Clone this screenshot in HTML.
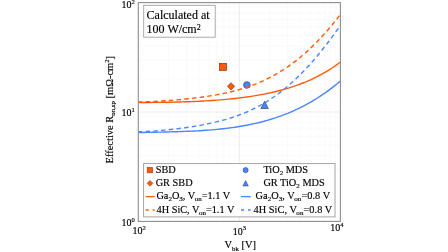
<!DOCTYPE html><html><head><meta charset="utf-8"><title>chart</title><style>html,body{margin:0;padding:0;background:#fff;}svg{display:block;font-family:"Liberation Serif",serif;fill:#000;}text{stroke:#000;stroke-width:0.15px;}</style></head><body>
<svg width="448" height="252" viewBox="0 0 448 252">
<rect width="448" height="252" fill="#fff"/>
<path d="M168.72 2.6 V221.4 M186.51 2.6 V221.4 M199.14 2.6 V221.4 M208.93 2.6 V221.4 M216.93 2.6 V221.4 M223.70 2.6 V221.4 M229.56 2.6 V221.4 M234.73 2.6 V221.4 M269.77 2.6 V221.4 M287.56 2.6 V221.4 M300.19 2.6 V221.4 M309.98 2.6 V221.4 M317.98 2.6 V221.4 M324.75 2.6 V221.4 M330.61 2.6 V221.4 M335.78 2.6 V221.4 M138.3 188.47 H340.4 M138.3 169.20 H340.4 M138.3 155.53 H340.4 M138.3 144.93 H340.4 M138.3 136.27 H340.4 M138.3 128.95 H340.4 M138.3 122.60 H340.4 M138.3 117.01 H340.4 M138.3 79.07 H340.4 M138.3 59.80 H340.4 M138.3 46.13 H340.4 M138.3 35.53 H340.4 M138.3 26.87 H340.4 M138.3 19.55 H340.4 M138.3 13.20 H340.4 M138.3 7.61 H340.4" stroke="#f9f9f9" stroke-width="0.8" fill="none"/>
<path d="M239.35 2.6 V221.4 M138.3 112.00 H340.4" stroke="#ebebeb" stroke-width="0.9" fill="none"/>
<g fill="none" stroke-width="1.4" stroke-linejoin="round">
<path d="M138.3 132.64 L141.2 132.56 L144.2 132.49 L147.1 132.42 L150.0 132.36 L152.9 132.29 L155.9 132.22 L158.8 132.15 L161.7 132.09 L164.7 132.02 L167.6 131.94 L170.5 131.87 L173.4 131.78 L176.4 131.7 L179.3 131.6 L182.2 131.5 L185.2 131.39 L188.1 131.28 L191.0 131.15 L194.0 131.01 L196.9 130.86 L199.8 130.69 L202.7 130.51 L205.7 130.31 L208.6 130.1 L211.5 129.87 L214.5 129.62 L217.4 129.35 L220.3 129.06 L223.2 128.75 L226.2 128.41 L229.1 128.04 L232.0 127.65 L235.0 127.23 L237.9 126.79 L240.8 126.31 L243.7 125.8 L246.7 125.25 L249.6 124.67 L252.5 124.06 L255.5 123.4 L258.4 122.71 L261.3 121.98 L264.2 121.2 L267.2 120.38 L270.1 119.52 L273.0 118.6 L276.0 117.65 L278.9 116.64 L281.8 115.57 L284.7 114.46 L287.7 113.29 L290.6 112.07 L293.5 110.79 L296.5 109.45 L299.4 108.04 L302.3 106.58 L305.3 105.05 L308.2 103.46 L311.1 101.79 L314.0 100.06 L317.0 98.26 L319.9 96.39 L322.8 94.44 L325.8 92.42 L328.7 90.32 L331.6 88.14 L334.5 85.88 L337.5 83.53 L340.4 81.11" stroke="#4a86ff"/>
<path d="M138.3 102.47 L141.2 102.46 L144.2 102.46 L147.1 102.45 L150.0 102.44 L152.9 102.42 L155.9 102.4 L158.8 102.37 L161.7 102.34 L164.7 102.3 L167.6 102.25 L170.5 102.2 L173.4 102.14 L176.4 102.07 L179.3 101.99 L182.2 101.91 L185.2 101.82 L188.1 101.71 L191.0 101.6 L194.0 101.48 L196.9 101.35 L199.8 101.21 L202.7 101.05 L205.7 100.89 L208.6 100.71 L211.5 100.52 L214.5 100.32 L217.4 100.1 L220.3 99.87 L223.2 99.62 L226.2 99.36 L229.1 99.08 L232.0 98.78 L235.0 98.47 L237.9 98.14 L240.8 97.78 L243.7 97.41 L246.7 97.01 L249.6 96.59 L252.5 96.14 L255.5 95.67 L258.4 95.17 L261.3 94.64 L264.2 94.08 L267.2 93.49 L270.1 92.87 L273.0 92.21 L276.0 91.52 L278.9 90.78 L281.8 90.01 L284.7 89.19 L287.7 88.33 L290.6 87.42 L293.5 86.46 L296.5 85.45 L299.4 84.39 L302.3 83.26 L305.3 82.08 L308.2 80.84 L311.1 79.52 L314.0 78.14 L317.0 76.69 L319.9 75.16 L322.8 73.55 L325.8 71.86 L328.7 70.08 L331.6 68.22 L334.5 66.25 L337.5 64.19 L340.4 62.03" stroke="#ff5a0a"/>
</g>
<rect x="219.40" y="63.40" width="7" height="7" fill="#ff5a0a" stroke="#8c2f08" stroke-width="0.7"/>
<path d="M231 82.7 L234.6 86.3 L231 89.89999999999999 L227.4 86.3 Z" fill="#ff5a0a" stroke="#8c2f08" stroke-width="0.7"/>
<circle cx="246.9" cy="85" r="3.3" fill="#4a86ff" stroke="#2b3a7a" stroke-width="0.7"/>
<path d="M264.6 101.30000000000001 L268.3 108.5 L260.90000000000003 108.5 Z" fill="#4a86ff" stroke="#2b3a7a" stroke-width="0.7"/>
<g fill="none" stroke-width="1.4" stroke-linejoin="round">
<path d="M138.3 131.68 L141.2 131.64 L144.2 131.57 L147.1 131.45 L150.0 131.3 L152.9 131.12 L155.9 130.91 L158.8 130.68 L161.7 130.42 L164.7 130.15 L167.6 129.85 L170.5 129.53 L173.4 129.2 L176.4 128.85 L179.3 128.48 L182.2 128.1 L185.2 127.69 L188.1 127.27 L191.0 126.83 L194.0 126.36 L196.9 125.88 L199.8 125.37 L202.7 124.83 L205.7 124.27 L208.6 123.67 L211.5 123.05 L214.5 122.39 L217.4 121.69 L220.3 120.95 L223.2 120.17 L226.2 119.34 L229.1 118.46 L232.0 117.54 L235.0 116.55 L237.9 115.52 L240.8 114.41 L243.7 113.25 L246.7 112.02 L249.6 110.72 L252.5 109.34 L255.5 107.89 L258.4 106.37 L261.3 104.76 L264.2 103.06 L267.2 101.28 L270.1 99.42 L273.0 97.46 L276.0 95.4 L278.9 93.26 L281.8 91.01 L284.7 88.67 L287.7 86.23 L290.6 83.68 L293.5 81.04 L296.5 78.29 L299.4 75.44 L302.3 72.49 L305.3 69.44 L308.2 66.28 L311.1 63.03 L314.0 59.67 L317.0 56.22 L319.9 52.67 L322.8 49.03 L325.8 45.3 L328.7 41.47 L331.6 37.57 L334.5 33.58 L337.5 29.52 L340.4 25.39" stroke="#4a86ff" stroke-dasharray="4.5 3.25" stroke-dashoffset="0.5"/>
<path d="M138.3 101.97 L141.2 101.92 L144.2 101.84 L147.1 101.75 L150.0 101.63 L152.9 101.49 L155.9 101.34 L158.8 101.17 L161.7 100.99 L164.7 100.79 L167.6 100.58 L170.5 100.36 L173.4 100.12 L176.4 99.87 L179.3 99.61 L182.2 99.34 L185.2 99.05 L188.1 98.75 L191.0 98.43 L194.0 98.1 L196.9 97.75 L199.8 97.38 L202.7 96.98 L205.7 96.57 L208.6 96.13 L211.5 95.67 L214.5 95.18 L217.4 94.65 L220.3 94.1 L223.2 93.51 L226.2 92.89 L229.1 92.22 L232.0 91.52 L235.0 90.77 L237.9 89.97 L240.8 89.13 L243.7 88.23 L246.7 87.28 L249.6 86.27 L252.5 85.21 L255.5 84.08 L258.4 82.88 L261.3 81.62 L264.2 80.29 L267.2 78.89 L270.1 77.41 L273.0 75.86 L276.0 74.22 L278.9 72.5 L281.8 70.7 L284.7 68.81 L287.7 66.84 L290.6 64.77 L293.5 62.61 L296.5 60.36 L299.4 58.01 L302.3 55.56 L305.3 53.01 L308.2 50.36 L311.1 47.61 L314.0 44.76 L317.0 41.8 L319.9 38.74 L322.8 35.58 L325.8 32.31 L328.7 28.94 L331.6 25.46 L334.5 21.87 L337.5 18.18 L340.4 14.39" stroke="#ff5a0a" stroke-dasharray="4.5 3.25" stroke-dashoffset="0.5"/>
</g>
<rect x="138.3" y="2.6" width="202.10" height="218.80" fill="none" stroke="#8e8e8e" stroke-width="1.1"/>
<rect x="143.7" y="5.3" width="71.5" height="31.9" fill="#fff" stroke="#a2a2a2" stroke-width="0.9"/>
<text x="146.6" y="19" font-size="12">Calculated at</text>
<text x="146.6" y="32.8" font-size="12">100 W/cm<tspan font-size="8" dy="-3.2">2</tspan></text>
<rect x="143.6" y="163.6" width="191.4" height="53.3" fill="#fff" stroke="#9c9c9c" stroke-width="0.9"/>
<rect x="147.15" y="167.35" width="5.5" height="5.5" fill="#ff5a0a" stroke="#8c2f08" stroke-width="0.5"/>
<text x="155.7" y="173.3" font-size="10.3">SBD</text>
<path d="M150.0 180.4 L152.9 183.3 L150.0 186.20000000000002 L147.1 183.3 Z" fill="#ff5a0a" stroke="#8c2f08" stroke-width="0.5"/>
<text x="155.7" y="186.3" font-size="10.3">GR SBD</text>
<path d="M145.6 196.6 H154.7" stroke="#ff5a0a" stroke-width="1.3"/>
<text x="156.4" y="199.4" font-size="10.3">Ga<tspan font-size="7.0" dy="2" dx="0">2</tspan><tspan dy="-2" font-size="10.3">O</tspan><tspan font-size="7.0" dy="2" dx="0">3</tspan><tspan dy="-2" font-size="10.3">, V</tspan><tspan font-size="7.0" dy="2" dx="-0.6">on</tspan><tspan dy="-2" font-size="10.3">=1.1 V</tspan></text>
<path d="M145.6 210 H154.7" stroke="#ff5a0a" stroke-width="1.3" stroke-dasharray="3.2 3.8"/>
<text x="156.5" y="212.5" font-size="10.3">4H SiC, V<tspan font-size="7.0" dy="2" dx="-0.6">on</tspan><tspan dy="-2" font-size="10.3">=1.1 V</tspan></text>
<circle cx="245.6" cy="170.1" r="2.6" fill="#4a86ff" stroke="#2b3a7a" stroke-width="0.5"/>
<text x="263.4" y="173.4" font-size="10.3">TiO<tspan font-size="7.0" dy="2" dx="0">2</tspan><tspan dy="-2" font-size="10.3"> MDS</tspan></text>
<path d="M245.6 180.60000000000002 L248.35 186.0 L242.85 186.0 Z" fill="#4a86ff" stroke="#2b3a7a" stroke-width="0.5"/>
<text x="263.4" y="186.4" font-size="10.3">GR TiO<tspan font-size="7.0" dy="2" dx="0">2</tspan><tspan dy="-2" font-size="10.3"> MDS</tspan></text>
<path d="M241 196.6 H250.7" stroke="#4a86ff" stroke-width="1.3"/>
<text x="255.5" y="199.4" font-size="10.3" letter-spacing="0.06">Ga<tspan font-size="7.0" dy="2" dx="0">2</tspan><tspan dy="-2" font-size="10.3">O</tspan><tspan font-size="7.0" dy="2" dx="0">3</tspan><tspan dy="-2" font-size="10.3">, V</tspan><tspan font-size="7.0" dy="2" dx="-0.6">on</tspan><tspan dy="-2" font-size="10.3">=0.8 V</tspan></text>
<path d="M241 210 H250.7" stroke="#4a86ff" stroke-width="1.3" stroke-dasharray="3.2 3.8"/>
<text x="253.5" y="212.5" font-size="10.3" letter-spacing="0.05">4H SiC, V<tspan font-size="7.0" dy="2" dx="-0.6">on</tspan><tspan dy="-2" font-size="10.3">=0.8 V</tspan></text>
<text x="121.5" y="8.4" font-size="10" text-anchor="start">10<tspan font-size="6.6" dy="-4.2">2</tspan></text>
<text x="121.5" y="116.4" font-size="10" text-anchor="start">10<tspan font-size="6.6" dy="-4.2">1</tspan></text>
<text x="121.5" y="225.7" font-size="10" text-anchor="start">10<tspan font-size="6.6" dy="-4.2">0</tspan></text>
<text x="132.4" y="234.2" font-size="10" text-anchor="start">10<tspan font-size="6.6" dy="-4.2">2</tspan></text>
<text x="232.8" y="234.6" font-size="10" text-anchor="start">10<tspan font-size="6.6" dy="-4.2">3</tspan></text>
<text x="330.3" y="231.3" font-size="10" text-anchor="start">10<tspan font-size="6.6" dy="-4.2">4</tspan></text>
<text x="224.5" y="247.9" font-size="10.4">V<tspan font-size="7" dy="2.7">bk</tspan><tspan dy="-2.7" font-size="10.4"> [V]</tspan></text>
<text transform="translate(112.9 163.4) rotate(-90)" font-size="10.45">Effective R<tspan font-size="6.9" dy="2.4">on,sp</tspan><tspan dy="-2.4" font-size="10.45"> [mΩ-cm</tspan><tspan font-size="6.8" dy="-3.5">2</tspan><tspan dy="3.5" font-size="10.45">]</tspan></text>
</svg></body></html>
